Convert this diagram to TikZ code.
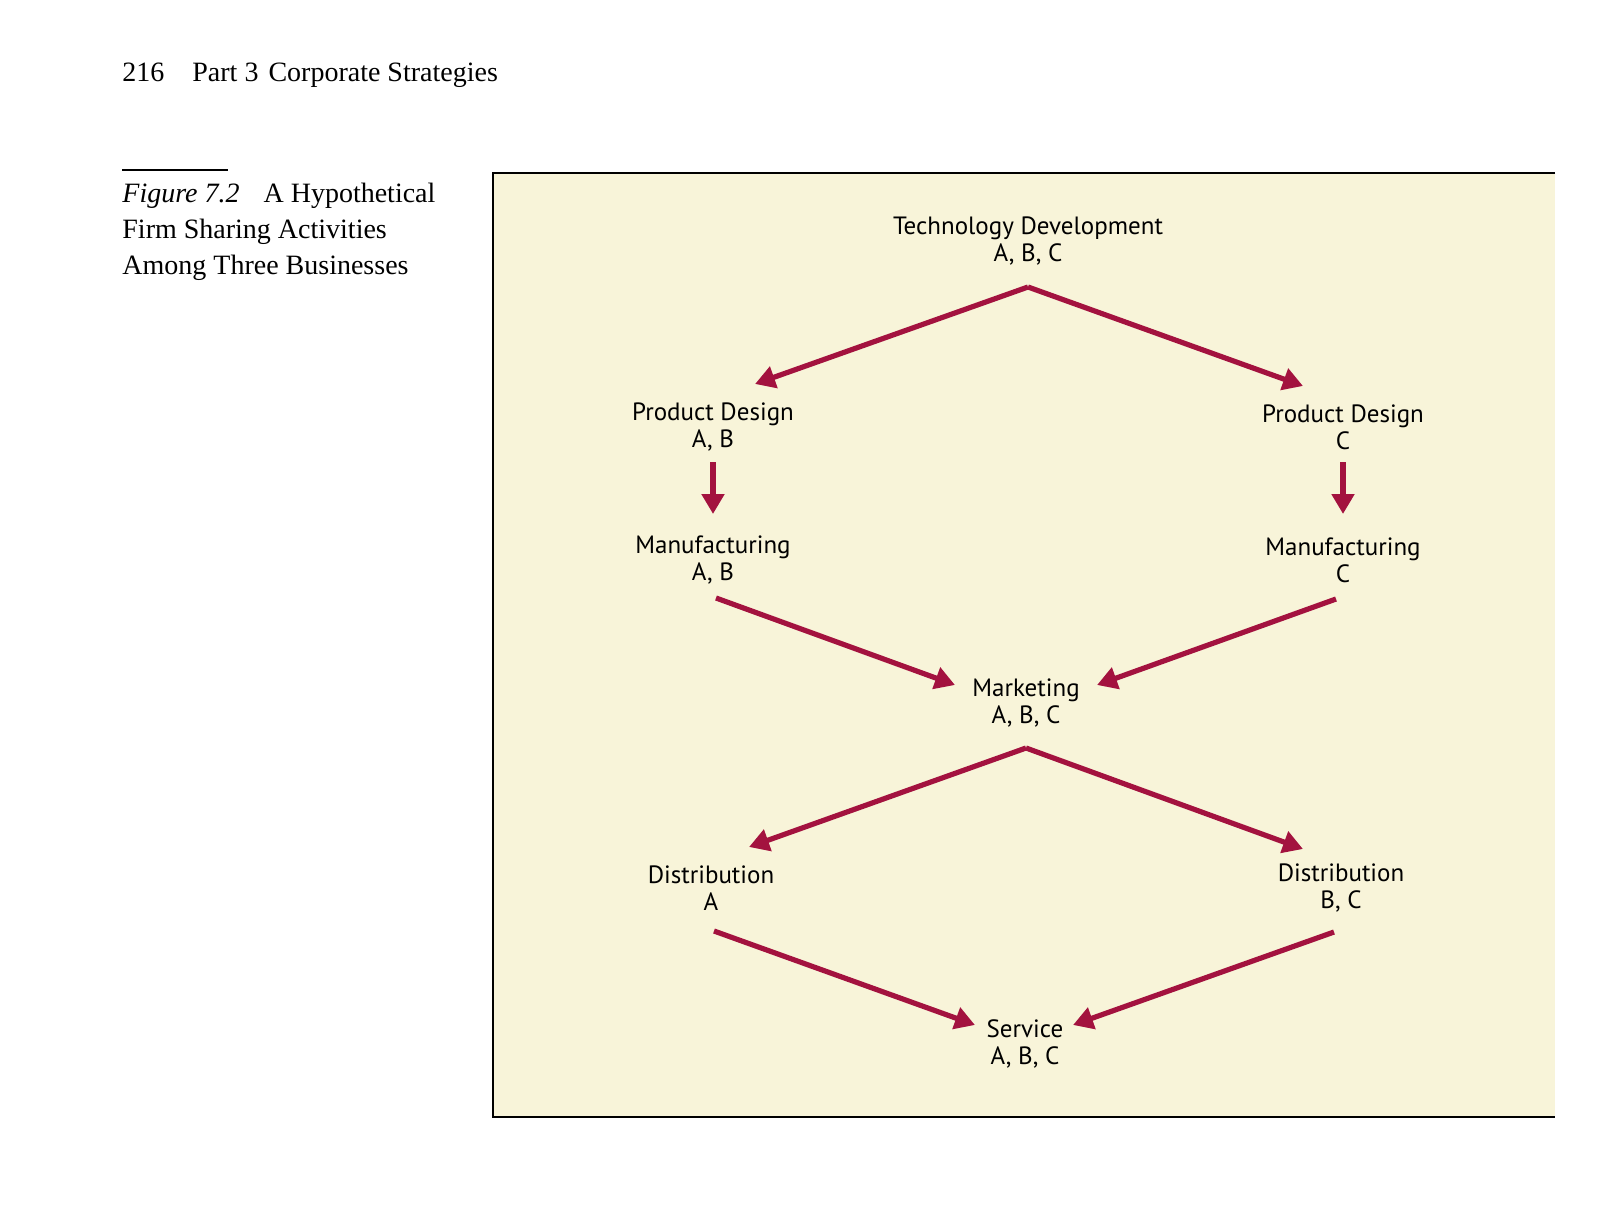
\documentclass[tikz,border=0pt]{standalone}
\usepackage{fontspec}
\setmainfont{Liberation Serif}
\newfontfamily\diag{PT Sans}
\usetikzlibrary{arrows.meta}
\definecolor{cream}{HTML}{F8F4D9}
\definecolor{crim}{HTML}{A3123F}
\tikzset{
  lbl/.style={font=\diag\fontsize{12.5}{13.5}\selectfont, align=center, inner sep=0pt},
  conn/.style={draw=crim, line width=2.6pt, -{Triangle[length=10pt,width=11pt]}}
}
\begin{document}
\begin{tikzpicture}[x=0.5pt,y=-0.5pt]
\useasboundingbox (0,0) rectangle (1600,1208);
\fill[white] (0,0) rectangle (1600,1208);
\node[anchor=west, font=\fontsize{14}{16}\selectfont, inner sep=0pt] (hdr) at (122,75) {216\hspace{14pt}Part 3\hspace{5pt}Corporate Strategies};
\draw[line width=0.8pt] (122,170) -- (228,170);
\node[anchor=north west, align=left, font=\fontsize{14}{18}\selectfont, inner sep=0pt] (cap) at (122,183)
  {\textit{Figure 7.2}\hspace{12pt}A Hypothetical\\Firm Sharing Activities\\Among Three Businesses};
\fill[cream] (493,173) rectangle (1555,1117);
\draw[line width=0.9pt] (1555,173) -- (493,173) -- (493,1117) -- (1555,1117);
\node[lbl] (tech) at (1028,241) {Technology Development\\A, B, C};
\node[lbl] (pdab) at (713,427) {Product Design\\A, B};
\node[lbl] (pdc) at (1343,427) {Product Design\\C};
\node[lbl] (mab) at (713,560) {Manufacturing\\A, B};
\node[lbl] (mc) at (1343,560) {Manufacturing\\C};
\node[lbl] (mkt) at (1026,703) {Marketing\\A, B, C};
\node[lbl] (da) at (711,888) {Distribution\\A};
\node[lbl] (dbc) at (1341,888) {Distribution\\B, C};
\node[lbl] (svc) at (1025,1044) {Service\\A, B, C};
\coordinate (apex1) at (1028,287);
\coordinate (apex2) at (1026,748);
\coordinate (t1) at (755,384);
\coordinate (t2) at (1303,386);
\coordinate (s1) at (716,598);
\coordinate (e1) at (955,685);
\coordinate (s2) at (1336,599);
\coordinate (e2) at (1097,685);
\coordinate (t3) at (749,847);
\coordinate (t4) at (1303,849);
\coordinate (s3) at (714,931);
\coordinate (e3) at (975,1025);
\coordinate (s4) at (1334,932);
\coordinate (e4) at (1073,1025);
\draw[conn] (apex1) -- (t1);
\draw[conn] (apex1) -- (t2);
\draw[conn] (pdab.south |- 0,462) -- (pdab.south |- 0,514);
\draw[conn] (pdc.south |- 0,462) -- (pdc.south |- 0,514);
\draw[conn] (s1) -- (e1);
\draw[conn] (s2) -- (e2);
\draw[conn] (apex2) -- (t3);
\draw[conn] (apex2) -- (t4);
\draw[conn] (s3) -- (e3);
\draw[conn] (s4) -- (e4);
\end{tikzpicture}
\end{document}
